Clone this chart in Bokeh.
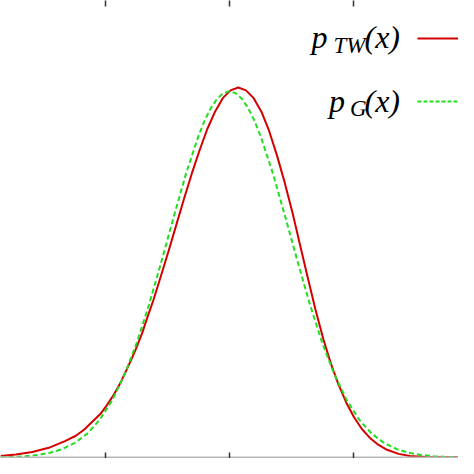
from bokeh.plotting import figure
from bokeh.models import LinearAxis, FixedTicker, Label, Arrow, Range1d, CustomLabelingPolicy
from bokeh.embed import file_html
from bokeh.resources import INLINE

# ---- data ----
tick_values = [-2, 0, 2]

tw_x = [-3.703, -3.453, -3.188, -2.922, -2.661, -2.484, -2.348, -2.219, -2.089, -1.984,
        -1.880, -1.750, -1.620, -1.516, -1.411, -1.328, -1.230, -1.109, -0.984, -0.859,
        -0.734, -0.609, -0.484, -0.359, -0.234, -0.109, 0.016, 0.141, 0.266, 0.391,
        0.516, 0.641, 0.766, 0.891, 1.016, 1.141, 1.266, 1.391, 1.516, 1.641,
        1.766, 1.891, 2.016, 2.141, 2.266, 2.391, 2.547, 2.734, 2.922, 3.172, 3.703]
tw_y = [0.0016, 0.0035, 0.0063, 0.0109, 0.0184, 0.0245, 0.0315, 0.0402, 0.0489, 0.0587,
        0.0696, 0.0859, 0.1054, 0.1217, 0.1402, 0.1576, 0.1772, 0.2043, 0.2326, 0.2620,
        0.2913, 0.3196, 0.3457, 0.3696, 0.3891, 0.4043, 0.4130, 0.4163, 0.4130, 0.4043,
        0.3891, 0.3674, 0.3402, 0.3098, 0.2761, 0.2391, 0.2022, 0.1663, 0.1337, 0.1054,
        0.0815, 0.0614, 0.0451, 0.0321, 0.0223, 0.0152, 0.0087, 0.0041, 0.0017, 0.0007, 0.0002]

g_x = [-3.7, -3.5, -3.3, -3.1, -2.9, -2.7, -2.5, -2.3, -2.1, -1.9, -1.7, -1.5, -1.3, -1.1,
       -0.9, -0.7, -0.5, -0.4, -0.3, -0.2, -0.1, 0.0, 0.1, 0.2, 0.3, 0.4, 0.5, 0.7, 0.9,
       1.1, 1.3, 1.5, 1.7, 1.9, 2.1, 2.3, 2.5, 2.7, 2.9, 3.1, 3.3, 3.5, 3.7]
g_y = [0.0004, 0.0007, 0.0015, 0.0029, 0.0054, 0.0096, 0.0164, 0.0269, 0.0423, 0.0640,
       0.0928, 0.1290, 0.1723, 0.2207, 0.2713, 0.3200, 0.3621, 0.3794, 0.3933, 0.4036,
       0.4099, 0.4120, 0.4099, 0.4036, 0.3933, 0.3794, 0.3621, 0.3200, 0.2713, 0.2207,
       0.1723, 0.1290, 0.0928, 0.0640, 0.0423, 0.0269, 0.0164, 0.0096, 0.0054, 0.0029,
       0.0015, 0.0007, 0.0004]

RED = "#d40000"
GREEN = "#22dd22"
W = H = 458

p = figure(width=W, height=H, output_backend="svg", toolbar_location=None,
           x_axis_location=None, y_axis_location=None,
           x_range=Range1d(-3.703, 3.703), y_range=Range1d(-1 / 920, 473 / 920),
           min_border=0, outline_line_color=None, background_fill_color="white")
p.grid.visible = False

no_labels = CustomLabelingPolicy(code="""
const idx = [...indices]
for (const i of idx) { indices.unset(i) }
return indices
""")

def make_axis(line_alpha):
    return LinearAxis(ticker=FixedTicker(ticks=tick_values, minor_ticks=[]),
                      axis_line_color="#b8b8b8", axis_line_width=4, axis_line_alpha=line_alpha,
                      major_tick_in=6, major_tick_out=0,
                      major_tick_line_color="#333333", major_tick_line_width=1.5,
                      minor_tick_in=0, minor_tick_out=0,
                      major_label_policy=no_labels,
                      major_label_text_font_size="0px", major_label_standoff=0)

p.add_layout(make_axis(1.0), "below")
p.add_layout(make_axis(0.0), "above")

p.line(x=tw_x, y=tw_y, line_color=RED, line_width=2, line_join="round")
p.line(x=g_x, y=g_y, line_color=GREEN, line_width=2, line_dash="5 3", line_join="round")

FONT = "Liberation Serif"

def lab(text, x, top, size):
    p.add_layout(Label(text=text, x=x, y=H - top, x_units="screen", y_units="screen",
                       text_font=FONT, text_font_style="italic", text_font_size=f"{size}px",
                       text_color="black", text_baseline="alphabetic", text_align="left"))

lab("p", 311, 36.5, 32)
lab("TW", 333, 44.5, 23)
lab("(x)", 364, 36.5, 32)
lab("p", 328.5, 100.5, 32)
lab("G", 349.5, 108, 23)
lab("(x)", 364, 100.5, 32)

p.add_layout(Arrow(end=None, x_start=417, y_start=H - 38, x_end=470, y_end=H - 38,
                   start_units="screen", end_units="screen", line_color=RED, line_width=2))
p.add_layout(Arrow(end=None, x_start=417, y_start=H - 101, x_end=470, y_end=H - 101,
                   start_units="screen", end_units="screen", line_color=GREEN, line_width=2,
                   line_dash="4 2"))

open("out.html", "w").write(file_html(p, INLINE))
